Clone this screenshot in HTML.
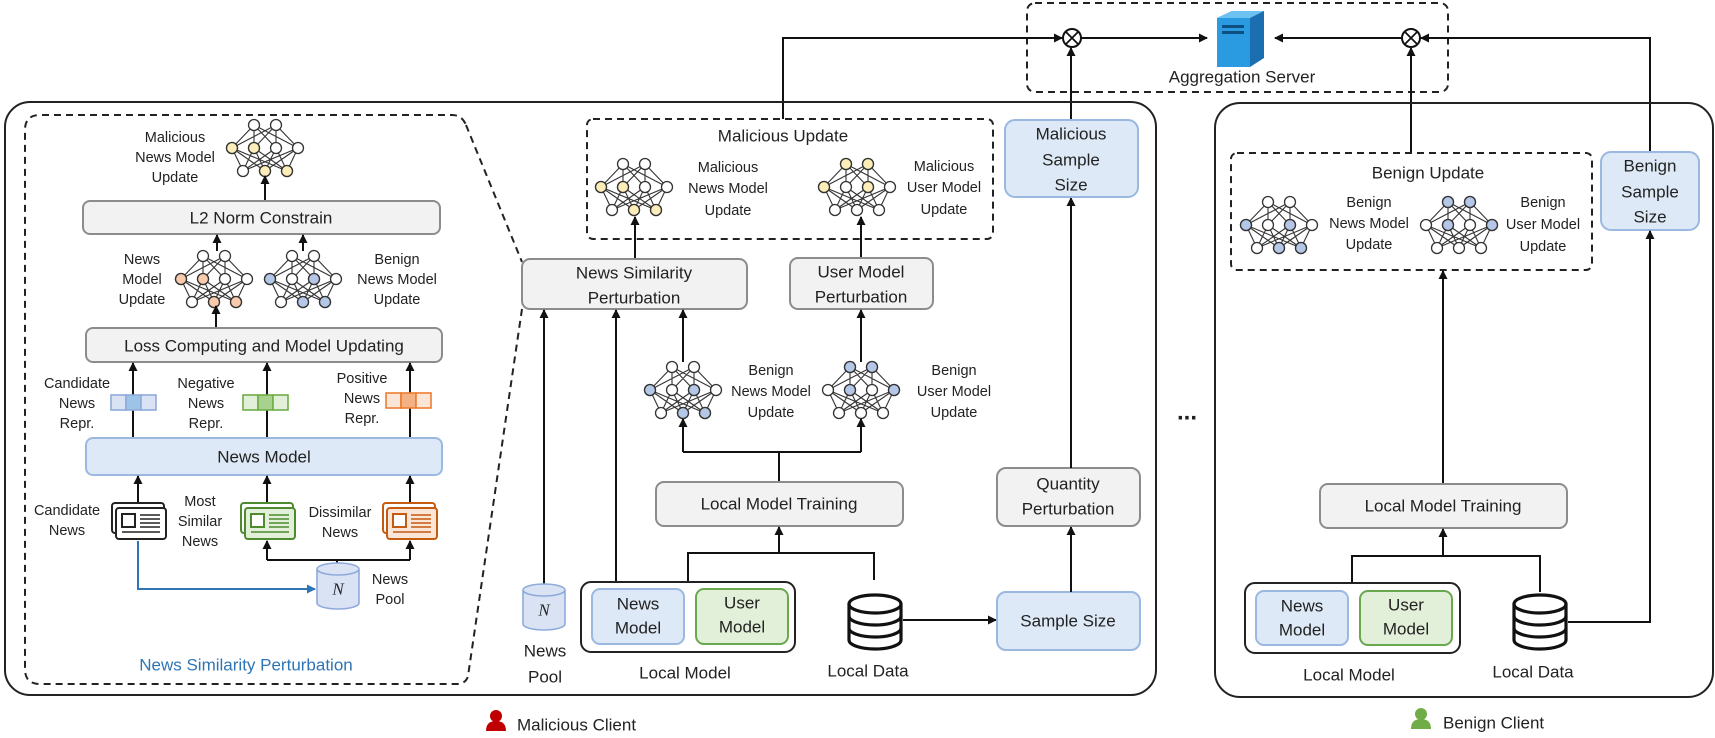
<!DOCTYPE html>
<html><head><meta charset="utf-8"><style>
html,body{margin:0;padding:0;background:#fff;width:1715px;height:738px;overflow:hidden}
svg{display:block}
text{font-family:"Liberation Sans",sans-serif;fill:#222;dominant-baseline:central;text-anchor:middle}
.s{font-size:14.5px}.m{font-size:17px}.b{font-size:17.5px}
.ln{stroke:#111;stroke-width:2;fill:none}
.ar{stroke:#111;stroke-width:2;fill:none;marker-end:url(#ah)}
.gb{fill:#f2f2f2;stroke:#8c8c8c;stroke-width:2}
.bb{fill:#dde9f6;stroke:#9ab8e0;stroke-width:2}
.grb{fill:#e2efd9;stroke:#6aa84f;stroke-width:2}
.dash{fill:none;stroke:#222;stroke-width:2;stroke-dasharray:7 5}
</style></head><body>
<svg width="1715" height="738" viewBox="0 0 1715 738" xmlns="http://www.w3.org/2000/svg">
<defs>
<marker id="ah" markerWidth="10" markerHeight="10" refX="8" refY="5" orient="auto" markerUnits="userSpaceOnUse"><path d="M0,0.5 L9,5 L0,9.5 Z" fill="#111"/></marker>
<marker id="ahb" markerWidth="10" markerHeight="10" refX="8" refY="5" orient="auto" markerUnits="userSpaceOnUse"><path d="M0,0.5 L9,5 L0,9.5 Z" fill="#2e75b6"/></marker>
<g id="nnl" stroke="#333" stroke-width="1.1">
<path d="M28,6L6,29M28,6L28,29M28,6L50,29M28,6L72,29M50,6L6,29M50,6L28,29M50,6L50,29M50,6L72,29M6,29L17,52M6,29L39,52M6,29L61,52M28,29L17,52M28,29L39,52M28,29L61,52M50,29L17,52M50,29L39,52M50,29L61,52M72,29L17,52M72,29L39,52M72,29L61,52"/>
</g>
<g id="nn" fill="#fff" stroke="#333" stroke-width="1.3">
<use href="#nnl"/>
<circle cx="28" cy="6" r="5.5"/><circle cx="50" cy="6" r="5.5"/>
<circle cx="6" cy="29" r="5.5"/><circle cx="28" cy="29" r="5.5"/><circle cx="50" cy="29" r="5.5"/><circle cx="72" cy="29" r="5.5"/>
<circle cx="17" cy="52" r="5.5"/><circle cx="39" cy="52" r="5.5"/><circle cx="61" cy="52" r="5.5"/>
</g>
<g id="db" fill="#fff" stroke="#111" stroke-width="3.2">
<path d="M2,12 L2,48 A26,9 0 0 0 54,48 L54,12"/>
<path d="M2,24 A26,9 0 0 0 54,24 M2,36 A26,9 0 0 0 54,36"/>
<ellipse cx="28" cy="12" rx="26" ry="9"/>
</g>
<g id="cyl">
<path d="M0,6 L0,40 A21,6 0 0 0 42,40 L42,6" fill="#dae3f3" stroke="#8faadc" stroke-width="1.6"/>
<ellipse cx="21" cy="6" rx="21" ry="6" fill="#dae3f3" stroke="#8faadc" stroke-width="1.6"/>
</g>
</defs>

<!-- Aggregation server -->
<rect x="1027" y="3" width="421" height="89" rx="8" class="dash"/>
<circle cx="1072" cy="38" r="9" fill="#fff" stroke="#111" stroke-width="2"/>
<path d="M1066,32L1078,44M1078,32L1066,44" stroke="#111" stroke-width="1.8"/>
<circle cx="1411" cy="38" r="9" fill="#fff" stroke="#111" stroke-width="2"/>
<path d="M1405,32L1417,44M1417,32L1405,44" stroke="#111" stroke-width="1.8"/>
<!-- server icon -->
<path d="M1217,18 L1232,11 L1264,11 L1264,58 L1250,67 L1217,67 Z" fill="#1b6fb0"/>
<rect x="1217" y="18" width="33" height="49" fill="#2a9be0"/>
<path d="M1217,18 L1232,11 L1264,11 L1250,18 Z" fill="#6cc3f2"/>
<rect x="1222" y="25" width="22" height="3" fill="#0d4f80"/>
<rect x="1222" y="31" width="22" height="3" fill="#0d4f80"/>
<text x="1242" y="77" class="m">Aggregation Server</text>
<path class="ar" d="M1081,38 L1207,38"/>
<path class="ar" d="M1402,38 L1275,38"/>
<path class="ar" d="M783,119 L783,38 L1062,38"/>
<path class="ar" d="M1071,120 L1071,48"/>
<path class="ar" d="M1650,152 L1650,38 L1421,38"/>
<path class="ar" d="M1411,153 L1411,48"/>

<!-- Malicious client box -->
<rect x="5" y="102" width="1151" height="593" rx="25" fill="none" stroke="#222" stroke-width="2"/>
<!-- left panel -->
<path class="dash" d="M466,125 L522,262 M522,309 L468,676 Q466,684 456,684 L40,684 Q25,684 25,669 L25,130 Q25,115 40,115 L452,115 Q462,115 466,125"/>
<text x="246" y="665" class="m" style="fill:#2e75b6">News Similarity Perturbation</text>

<g transform="translate(226,119)"><use href="#nn"/><g fill="#fdedb8" stroke="#333" stroke-width="1.3"><circle cx="6" cy="29" r="5.5"/><circle cx="28" cy="29" r="5.5"/><circle cx="39" cy="52" r="5.5"/><circle cx="61" cy="52" r="5.5"/></g></g>
<text x="175" y="138" class="s">Malicious</text><text x="175" y="158" class="s">News Model</text><text x="175" y="178" class="s">Update</text>
<path class="ar" d="M265,201 L265,176"/>
<rect x="83" y="201" width="357" height="33" rx="7" class="gb"/>
<text x="261" y="218" class="m">L2 Norm Constrain</text>
<path class="ar" d="M217,251 L217,235"/><path class="ar" d="M303,251 L303,235"/>
<g transform="translate(175,250)"><use href="#nn"/><g fill="#f8cbad" stroke="#333" stroke-width="1.3"><circle cx="6" cy="29" r="5.5"/><circle cx="28" cy="29" r="5.5"/><circle cx="39" cy="52" r="5.5"/><circle cx="61" cy="52" r="5.5"/></g></g>
<g transform="translate(264,250)"><use href="#nn"/><g fill="#b4c7e7" stroke="#333" stroke-width="1.3"><circle cx="6" cy="29" r="5.5"/><circle cx="50" cy="29" r="5.5"/><circle cx="39" cy="52" r="5.5"/><circle cx="61" cy="52" r="5.5"/></g></g>
<text x="142" y="260" class="s">News</text><text x="142" y="280" class="s">Model</text><text x="142" y="300" class="s">Update</text>
<text x="397" y="260" class="s">Benign</text><text x="397" y="280" class="s">News Model</text><text x="397" y="300" class="s">Update</text>
<path class="ar" d="M216,328 L216,306"/>
<rect x="86" y="328" width="356" height="34" rx="7" class="gb"/>
<text x="264" y="346" class="m">Loss Computing and Model Updating</text>
<path class="ar" d="M133,438 L133,363"/><path class="ar" d="M267,438 L267,363"/><path class="ar" d="M410,438 L410,363"/>
<!-- vectors -->
<g stroke-width="1.6">
<rect x="111" y="395" width="15" height="15" fill="#dae3f3" stroke="#8faadc"/><rect x="126" y="395" width="15" height="15" fill="#9dc3e6" stroke="#8faadc"/><rect x="141" y="395" width="15" height="15" fill="#dae3f3" stroke="#8faadc"/>
<rect x="243" y="395" width="15" height="15" fill="#e2efd9" stroke="#70ad47"/><rect x="258" y="395" width="15" height="15" fill="#a9d18e" stroke="#70ad47"/><rect x="273" y="395" width="15" height="15" fill="#e2efd9" stroke="#70ad47"/>
<rect x="386" y="393" width="15" height="15" fill="#fbe5d6" stroke="#ed7d31"/><rect x="401" y="393" width="15" height="15" fill="#f4b183" stroke="#ed7d31"/><rect x="416" y="393" width="15" height="15" fill="#fbe5d6" stroke="#ed7d31"/>
</g>
<text x="77" y="384" class="s">Candidate</text><text x="77" y="404" class="s">News</text><text x="77" y="424" class="s">Repr.</text>
<text x="206" y="384" class="s">Negative</text><text x="206" y="404" class="s">News</text><text x="206" y="424" class="s">Repr.</text>
<text x="362" y="379" class="s">Positive</text><text x="362" y="399" class="s">News</text><text x="362" y="419" class="s">Repr.</text>
<rect x="86" y="438" width="356" height="37" rx="7" class="bb"/>
<text x="264" y="457" class="m">News Model</text>
<path class="ar" d="M138,502 L138,476"/><path class="ar" d="M267,502 L267,476"/><path class="ar" d="M410,502 L410,476"/>
<!-- news icons -->
<g stroke-width="2">
<g transform="translate(110,503)" stroke="#222"><rect x="2" y="0" width="52" height="30" rx="3" fill="#fff"/><rect x="6" y="5" width="50" height="31" rx="3" fill="#fff"/><rect x="12" y="11" width="13" height="13" fill="#fff"/><path d="M30,12H50M30,16H50M30,20H50M30,24H50M12,29H50" stroke-width="1.5"/></g>
<g transform="translate(239,503)" stroke="#4e8a2e"><rect x="2" y="0" width="52" height="30" rx="3" fill="#fff"/><rect x="6" y="5" width="50" height="31" rx="3" fill="#e2efd9"/><rect x="12" y="11" width="13" height="13" fill="#fff"/><path d="M30,12H50M30,16H50M30,20H50M30,24H50M12,29H50" stroke-width="1.5"/></g>
<g transform="translate(381,503)" stroke="#c55a11"><rect x="2" y="0" width="52" height="30" rx="3" fill="#fff"/><rect x="6" y="5" width="50" height="31" rx="3" fill="#fbe5d6"/><rect x="12" y="11" width="13" height="13" fill="#fff"/><path d="M30,12H50M30,16H50M30,20H50M30,24H50M12,29H50" stroke-width="1.5"/></g>
</g>
<text x="67" y="511" class="s">Candidate</text><text x="67" y="531" class="s">News</text>
<text x="200" y="502" class="s">Most</text><text x="200" y="522" class="s">Similar</text><text x="200" y="542" class="s">News</text>
<text x="340" y="513" class="s">Dissimilar</text><text x="340" y="533" class="s">News</text>
<path class="ln" d="M337,565 L337,560 M267,560 L410,560"/>
<path class="ar" d="M267,560 L267,541"/><path class="ar" d="M410,560 L410,541"/>
<path d="M138,541 L138,589 L315,589" stroke="#2e75b6" stroke-width="2" fill="none" marker-end="url(#ahb)"/>
<g transform="translate(317,563)"><use href="#cyl"/></g>
<text x="338" y="589" style="font-family:'Liberation Serif',serif;font-style:italic;font-size:17px">N</text>
<text x="390" y="580" class="s">News</text><text x="390" y="600" class="s">Pool</text>

<!-- malicious middle -->
<rect x="587" y="119" width="406" height="120" rx="6" class="dash"/>
<text x="783" y="136" class="m">Malicious Update</text>
<g transform="translate(595,158)"><use href="#nn"/><g fill="#fdedb8" stroke="#333" stroke-width="1.3"><circle cx="6" cy="29" r="5.5"/><circle cx="28" cy="29" r="5.5"/><circle cx="39" cy="52" r="5.5"/><circle cx="61" cy="52" r="5.5"/></g></g>
<g transform="translate(818,158)"><use href="#nn"/><g fill="#fdedb8" stroke="#333" stroke-width="1.3"><circle cx="28" cy="6" r="5.5"/><circle cx="50" cy="6" r="5.5"/><circle cx="6" cy="29" r="5.5"/><circle cx="50" cy="29" r="5.5"/></g></g>
<text x="728" y="168" class="s">Malicious</text><text x="728" y="189" class="s">News Model</text><text x="728" y="211" class="s">Update</text>
<text x="944" y="167" class="s">Malicious</text><text x="944" y="188" class="s">User Model</text><text x="944" y="210" class="s">Update</text>
<path class="ar" d="M635,259 L635,217"/><path class="ar" d="M861,258 L861,217"/>
<rect x="522" y="259" width="225" height="50" rx="8" class="gb"/>
<text x="634" y="273" class="m">News Similarity</text><text x="634" y="298" class="m">Perturbation</text>
<rect x="790" y="258" width="143" height="51" rx="8" class="gb"/>
<text x="861" y="272" class="m">User Model</text><text x="861" y="297" class="m">Perturbation</text>
<path class="ar" d="M544,585 L544,310"/><path class="ar" d="M616,589 L616,310"/>
<path class="ar" d="M683,362 L683,310"/><path class="ar" d="M861,362 L861,310"/>
<g transform="translate(644,361)"><use href="#nn"/><g fill="#b4c7e7" stroke="#333" stroke-width="1.3"><circle cx="6" cy="29" r="5.5"/><circle cx="50" cy="29" r="5.5"/><circle cx="39" cy="52" r="5.5"/><circle cx="61" cy="52" r="5.5"/></g></g>
<g transform="translate(822,361)"><use href="#nn"/><g fill="#b4c7e7" stroke="#333" stroke-width="1.3"><circle cx="28" cy="6" r="5.5"/><circle cx="50" cy="6" r="5.5"/><circle cx="28" cy="29" r="5.5"/><circle cx="72" cy="29" r="5.5"/></g></g>
<text x="771" y="371" class="s">Benign</text><text x="771" y="392" class="s">News Model</text><text x="771" y="413" class="s">Update</text>
<text x="954" y="371" class="s">Benign</text><text x="954" y="392" class="s">User Model</text><text x="954" y="413" class="s">Update</text>
<path class="ln" d="M779,482 L779,452 M683,452 L861,452"/>
<path class="ar" d="M683,452 L683,419"/><path class="ar" d="M861,452 L861,419"/>
<rect x="656" y="482" width="247" height="44" rx="8" class="gb"/>
<text x="779" y="504" class="m">Local Model Training</text>
<path class="ln" d="M688,582 L688,553 L874,553 L874,580"/>
<path class="ar" d="M779,553 L779,527"/>
<rect x="581" y="582" width="214" height="70" rx="10" fill="#fff" stroke="#222" stroke-width="2"/>
<rect x="592" y="589" width="92" height="55" rx="8" class="bb"/>
<rect x="696" y="589" width="92" height="55" rx="8" class="grb"/>
<text x="638" y="604" class="m">News</text><text x="638" y="628" class="m">Model</text>
<text x="742" y="603" class="m">User</text><text x="742" y="627" class="m">Model</text>
<text x="685" y="673" class="m">Local Model</text>
<g transform="translate(847,592)"><use href="#db"/></g>
<text x="868" y="671" class="m">Local Data</text>
<g transform="translate(523,584)"><use href="#cyl"/></g>
<text x="544" y="610" style="font-family:'Liberation Serif',serif;font-style:italic;font-size:17px">N</text>
<text x="545" y="651" class="m">News</text><text x="545" y="677" class="m">Pool</text>
<path class="ar" d="M903,620 L996,620"/>
<rect x="997" y="592" width="143" height="58" rx="9" class="bb"/>
<text x="1068" y="621" class="m">Sample Size</text>
<path class="ar" d="M1071,592 L1071,527"/>
<rect x="997" y="468" width="143" height="58" rx="9" class="gb"/>
<text x="1068" y="484" class="m">Quantity</text><text x="1068" y="509" class="m">Perturbation</text>
<path class="ar" d="M1071,468 L1071,198"/>
<rect x="1005" y="120" width="133" height="77" rx="10" class="bb"/>
<text x="1071" y="134" class="m">Malicious</text><text x="1071" y="160" class="m">Sample</text><text x="1071" y="185" class="m">Size</text>

<text x="1187" y="412" style="font-size:24px;font-weight:bold">...</text>

<!-- benign client -->
<rect x="1215" y="103" width="498" height="594" rx="25" fill="none" stroke="#222" stroke-width="2"/>
<rect x="1231" y="153" width="361" height="117" rx="6" class="dash"/>
<text x="1428" y="173" class="m">Benign Update</text>
<g transform="translate(1240,196)"><use href="#nn"/><g fill="#b4c7e7" stroke="#333" stroke-width="1.3"><circle cx="6" cy="29" r="5.5"/><circle cx="50" cy="29" r="5.5"/><circle cx="39" cy="52" r="5.5"/><circle cx="61" cy="52" r="5.5"/></g></g>
<g transform="translate(1420,196)"><use href="#nn"/><g fill="#b4c7e7" stroke="#333" stroke-width="1.3"><circle cx="28" cy="6" r="5.5"/><circle cx="50" cy="6" r="5.5"/><circle cx="28" cy="29" r="5.5"/><circle cx="72" cy="29" r="5.5"/></g></g>
<text x="1369" y="203" class="s">Benign</text><text x="1369" y="224" class="s">News Model</text><text x="1369" y="245" class="s">Update</text>
<text x="1543" y="203" class="s">Benign</text><text x="1543" y="225" class="s">User Model</text><text x="1543" y="247" class="s">Update</text>
<rect x="1601" y="152" width="98" height="78" rx="10" class="bb"/>
<text x="1650" y="166" class="m">Benign</text><text x="1650" y="192" class="m">Sample</text><text x="1650" y="217" class="m">Size</text>
<path class="ar" d="M1443,484 L1443,271"/>
<rect x="1320" y="484" width="247" height="44" rx="8" class="gb"/>
<text x="1443" y="506" class="m">Local Model Training</text>
<path class="ln" d="M1352,583 L1352,556 L1540,556 L1540,592"/>
<path class="ar" d="M1443,556 L1443,529"/>
<rect x="1245" y="583" width="215" height="70" rx="10" fill="#fff" stroke="#222" stroke-width="2"/>
<rect x="1256" y="591" width="92" height="54" rx="8" class="bb"/>
<rect x="1360" y="591" width="92" height="54" rx="8" class="grb"/>
<text x="1302" y="606" class="m">News</text><text x="1302" y="630" class="m">Model</text>
<text x="1406" y="605" class="m">User</text><text x="1406" y="629" class="m">Model</text>
<text x="1349" y="675" class="m">Local Model</text>
<g transform="translate(1512,592)"><use href="#db"/></g>
<text x="1533" y="672" class="m">Local Data</text>
<path class="ar" d="M1568,622 L1650,622 L1650,231"/>

<!-- legends -->
<g fill="#c00000"><circle cx="496" cy="716" r="6"/><path d="M486,731 Q486,721 496,721 Q506,721 506,731 Z"/></g>
<text x="517" y="725" class="m" style="text-anchor:start">Malicious Client</text>
<g fill="#70ad47"><circle cx="1421" cy="714" r="6"/><path d="M1411,729 Q1411,719 1421,719 Q1431,719 1431,729 Z"/></g>
<text x="1443" y="723" class="m" style="text-anchor:start">Benign Client</text>
</svg>
</body></html>
